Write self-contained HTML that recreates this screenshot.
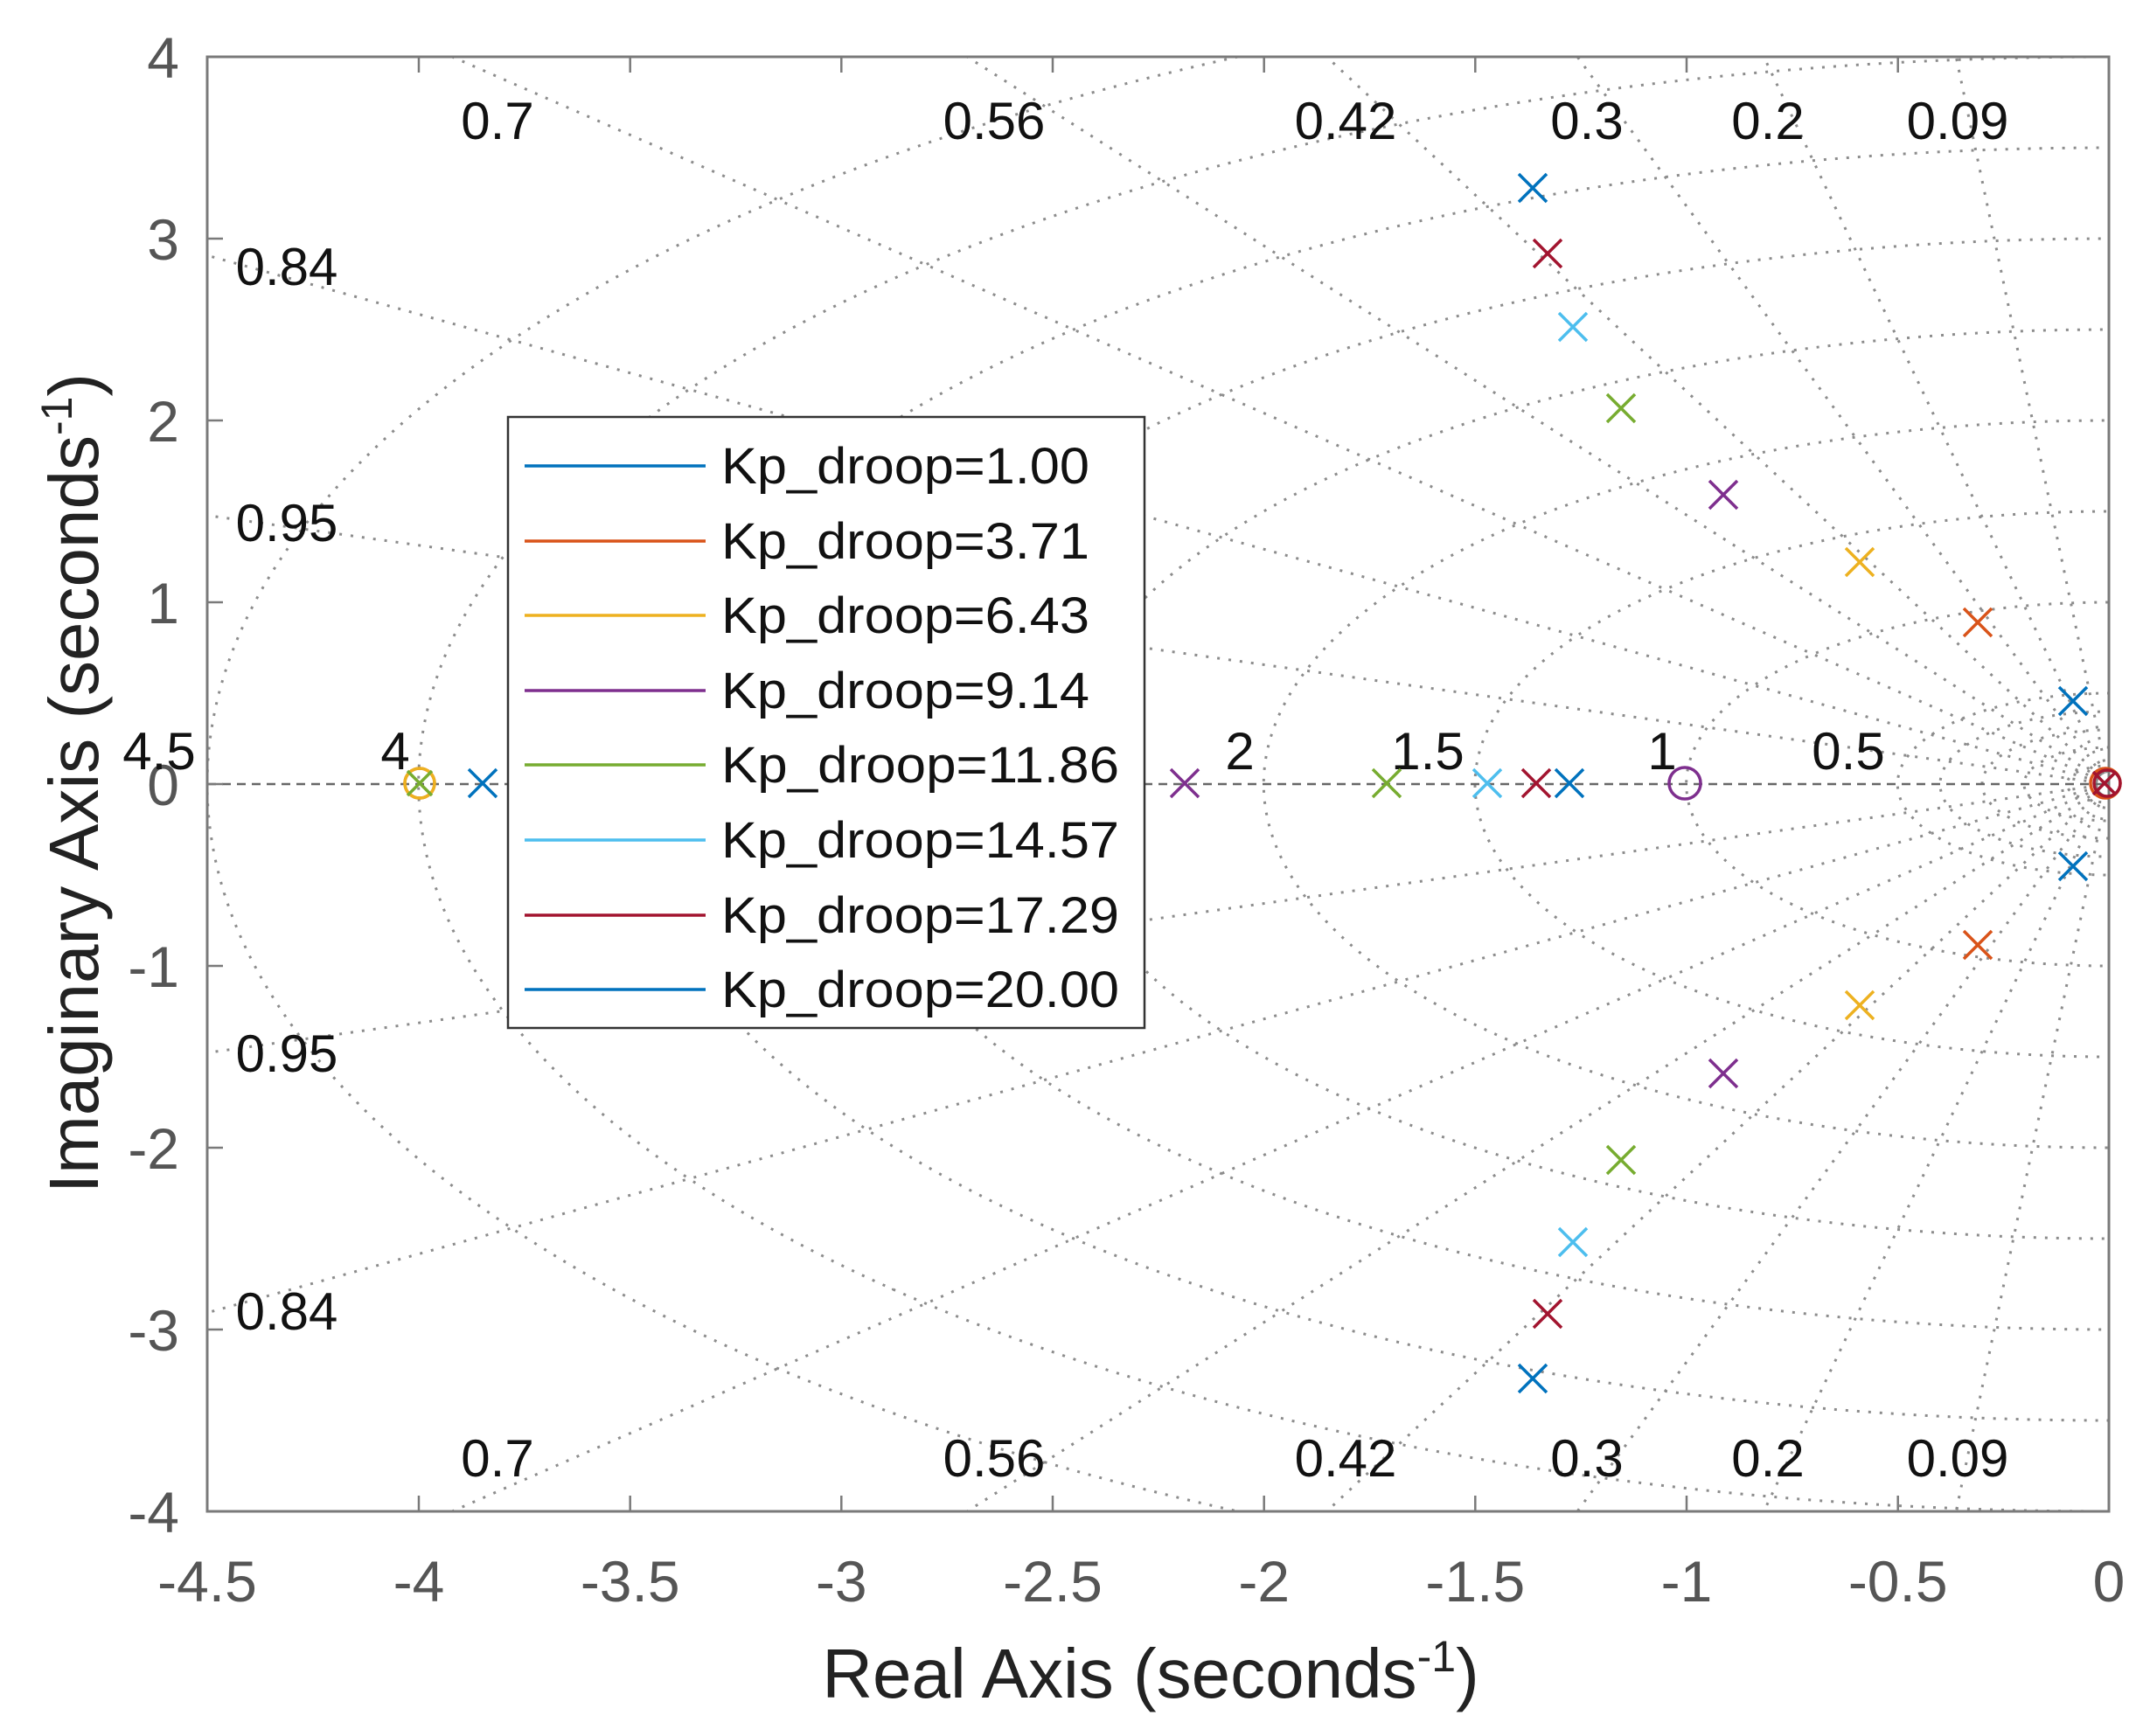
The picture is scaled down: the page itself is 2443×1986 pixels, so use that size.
<!DOCTYPE html>
<html><head><meta charset="utf-8"><style>html,body{margin:0;padding:0;background:#fff;width:2443px;height:1986px;overflow:hidden}svg{display:block}</style></head>
<body>
<svg width="2443" height="1986" viewBox="0 0 2443 1986" xmlns="http://www.w3.org/2000/svg" font-family="Liberation Sans, Arial, sans-serif">
<defs>
<clipPath id="c"><rect x="237" y="65" width="2175" height="1664"/></clipPath>
</defs>
<rect width="2443" height="1986" fill="#fff"/>
<g clip-path="url(#c)" fill="none" stroke="#8c8c8c" stroke-width="3" stroke-dasharray="3 10">
<line x1="2412" y1="897" x2="2020.5" y2="-967"/><line x1="2412" y1="897" x2="2020.5" y2="2761"/>
<line x1="2412" y1="897" x2="1542.1" y2="-937"/><line x1="2412" y1="897" x2="1542.1" y2="2731"/>
<line x1="2412" y1="897" x2="1107.1" y2="-889"/><line x1="2412" y1="897" x2="1107.1" y2="2683"/>
<line x1="2412" y1="897" x2="585.1" y2="-802"/><line x1="2412" y1="897" x2="585.1" y2="2596"/>
<line x1="2412" y1="897" x2="-23.8" y2="-655"/><line x1="2412" y1="897" x2="-23.8" y2="2449"/>
<line x1="2412" y1="897" x2="-632.8" y2="-440"/><line x1="2412" y1="897" x2="-632.8" y2="2234"/>
<line x1="2412" y1="897" x2="-1241.7" y2="-119"/><line x1="2412" y1="897" x2="-1241.7" y2="1913"/>
<line x1="2412" y1="897" x2="-1720.2" y2="313"/><line x1="2412" y1="897" x2="-1720.2" y2="1481"/>
<ellipse cx="2412" cy="897" rx="241.7" ry="104"/>
<ellipse cx="2412" cy="897" rx="483.3" ry="208"/>
<ellipse cx="2412" cy="897" rx="725" ry="312"/>
<ellipse cx="2412" cy="897" rx="966.7" ry="416"/>
<ellipse cx="2412" cy="897" rx="1208.3" ry="520"/>
<ellipse cx="2412" cy="897" rx="1450" ry="624"/>
<ellipse cx="2412" cy="897" rx="1691.7" ry="728"/>
<ellipse cx="2412" cy="897" rx="1933.3" ry="832"/>
<ellipse cx="2412" cy="897" rx="2175" ry="936"/>
<ellipse cx="2412" cy="897" rx="48" ry="21"/>
<ellipse cx="2412" cy="897" rx="97" ry="42"/>
<ellipse cx="2412" cy="897" rx="145" ry="62"/>
<ellipse cx="2412" cy="897" rx="193" ry="83"/>
</g>
<line x1="237" y1="897" x2="2412" y2="897" stroke="#666" stroke-width="2.5" stroke-dasharray="10 7"/>
<rect x="237" y="65" width="2175" height="1664" fill="none" stroke="#7a7a7a" stroke-width="3"/>
<g stroke="#7a7a7a" stroke-width="2.5">
<line x1="237" y1="273" x2="255" y2="273"/><line x1="237" y1="481" x2="255" y2="481"/><line x1="237" y1="689" x2="255" y2="689"/><line x1="237" y1="897" x2="255" y2="897"/><line x1="237" y1="1105" x2="255" y2="1105"/><line x1="237" y1="1313" x2="255" y2="1313"/><line x1="237" y1="1521" x2="255" y2="1521"/>
<line x1="479" y1="1729" x2="479" y2="1711"/><line x1="720.7" y1="1729" x2="720.7" y2="1711"/><line x1="962.3" y1="1729" x2="962.3" y2="1711"/><line x1="1204" y1="1729" x2="1204" y2="1711"/><line x1="1445.7" y1="1729" x2="1445.7" y2="1711"/><line x1="1687.3" y1="1729" x2="1687.3" y2="1711"/><line x1="1929" y1="1729" x2="1929" y2="1711"/><line x1="2170.7" y1="1729" x2="2170.7" y2="1711"/>
<line x1="479" y1="65" x2="479" y2="83"/><line x1="720.7" y1="65" x2="720.7" y2="83"/><line x1="962.3" y1="65" x2="962.3" y2="83"/><line x1="1204" y1="65" x2="1204" y2="83"/><line x1="1445.7" y1="65" x2="1445.7" y2="83"/><line x1="1687.3" y1="65" x2="1687.3" y2="83"/><line x1="1929" y1="65" x2="1929" y2="83"/><line x1="2170.7" y1="65" x2="2170.7" y2="83"/>
</g>
<g fill="#555" font-size="66" text-anchor="end">
<text x="205" y="89">4</text><text x="205" y="297">3</text><text x="205" y="505">2</text><text x="205" y="713">1</text><text x="205" y="921">0</text><text x="205" y="1129">-1</text><text x="205" y="1337">-2</text><text x="205" y="1545">-3</text><text x="205" y="1753">-4</text>
</g>
<g fill="#555" font-size="66" text-anchor="middle">
<text x="237" y="1832">-4.5</text><text x="479" y="1832">-4</text><text x="720.7" y="1832">-3.5</text><text x="962.3" y="1832">-3</text><text x="1204" y="1832">-2.5</text><text x="1445.7" y="1832">-2</text><text x="1687.3" y="1832">-1.5</text><text x="1929" y="1832">-1</text><text x="2170.7" y="1832">-0.5</text><text x="2412" y="1832">0</text>
</g>
<text x="1316" y="1942" font-size="80" text-anchor="middle" fill="#222">Real Axis (seconds<tspan dy="-30" font-size="50">-1</tspan><tspan dy="30">)</tspan></text>
<text transform="translate(112,896) rotate(-90)" font-size="80" text-anchor="middle" fill="#222">Imaginary Axis (seconds<tspan dy="-30" font-size="50">-1</tspan><tspan dy="30">)</tspan></text>
<g fill="#111" font-size="60" text-anchor="middle">
<text x="569" y="159">0.7</text><text x="1137" y="159">0.56</text><text x="1539" y="159">0.42</text><text x="1815" y="159">0.3</text><text x="2022" y="159">0.2</text><text x="2239" y="159">0.09</text>
<text x="569" y="1689">0.7</text><text x="1137" y="1689">0.56</text><text x="1539" y="1689">0.42</text><text x="1815" y="1689">0.3</text><text x="2022" y="1689">0.2</text><text x="2239" y="1689">0.09</text>
<text x="328" y="326">0.84</text><text x="328" y="619">0.95</text><text x="328" y="1226">0.95</text><text x="328" y="1521">0.84</text>
<text x="182" y="880">4.5</text><text x="452" y="880">4</text><text x="1418" y="880">2</text><text x="1633" y="880">1.5</text><text x="1901" y="880">1</text><text x="2114" y="880">0.5</text>
</g>
<g fill="none" stroke-width="3.5">
<g stroke="#0072BD"><path d="M2355 786l32 32M2387 786l-32 32M2355 975l32 32M2387 975l-32 32M1737 199l32 32M1769 199l-32 32M1737 1561l32 32M1769 1561l-32 32M1779 880l32 32M1811 880l-32 32M536 880l32 32M568 880l-32 32"/></g>
<g stroke="#D95319"><path d="M2246 696l32 32M2278 696l-32 32M2246 1065l32 32M2278 1065l-32 32"/><circle cx="2408" cy="896" r="17"/><circle cx="480" cy="896" r="17"/></g>
<g stroke="#EDB120"><path d="M2111 627l32 32M2143 627l-32 32M2111 1134l32 32M2143 1134l-32 32"/><circle cx="480" cy="896" r="17"/></g>
<g stroke="#7E2F8E"><path d="M1955 550l32 32M1987 550l-32 32M1955 1212l32 32M1987 1212l-32 32M1339 880l32 32M1371 880l-32 32"/><circle cx="1927" cy="896" r="18"/></g>
<g stroke="#77AC30"><path d="M1838 451l32 32M1870 451l-32 32M1838 1311l32 32M1870 1311l-32 32M1570 880l32 32M1602 880l-32 32M466 882l28 28M494 882l-28 28"/></g>
<g stroke="#4DBEEE"><path d="M1783 358l32 32M1815 358l-32 32M1783 1405l32 32M1815 1405l-32 32M1685 880l32 32M1717 880l-32 32"/></g>
<g stroke="#A2142F"><path d="M1754 274l32 32M1786 274l-32 32M1754 1487l32 32M1786 1487l-32 32M1741 880l32 32M1773 880l-32 32M2394 883l26 26M2420 883l-26 26"/><circle cx="2410" cy="896" r="15"/></g>
</g>
<rect x="581" y="477" width="728" height="699" fill="#fff" stroke="#333" stroke-width="2.5"/>
<g stroke-width="3.5">
<line x1="600" y1="533" x2="807" y2="533" stroke="#0072BD"/>
<line x1="600" y1="619" x2="807" y2="619" stroke="#D95319"/>
<line x1="600" y1="704" x2="807" y2="704" stroke="#EDB120"/>
<line x1="600" y1="790" x2="807" y2="790" stroke="#7E2F8E"/>
<line x1="600" y1="875" x2="807" y2="875" stroke="#77AC30"/>
<line x1="600" y1="961" x2="807" y2="961" stroke="#4DBEEE"/>
<line x1="600" y1="1047" x2="807" y2="1047" stroke="#A2142F"/>
<line x1="600" y1="1132" x2="807" y2="1132" stroke="#0072BD"/>
</g>
<g fill="#111" font-size="58">
<text x="825" y="553" textLength="421" lengthAdjust="spacingAndGlyphs">Kp_droop=1.00</text>
<text x="825" y="639" textLength="421" lengthAdjust="spacingAndGlyphs">Kp_droop=3.71</text>
<text x="825" y="724" textLength="421" lengthAdjust="spacingAndGlyphs">Kp_droop=6.43</text>
<text x="825" y="810" textLength="421" lengthAdjust="spacingAndGlyphs">Kp_droop=9.14</text>
<text x="825" y="895" textLength="455" lengthAdjust="spacingAndGlyphs">Kp_droop=11.86</text>
<text x="825" y="981" textLength="455" lengthAdjust="spacingAndGlyphs">Kp_droop=14.57</text>
<text x="825" y="1067" textLength="455" lengthAdjust="spacingAndGlyphs">Kp_droop=17.29</text>
<text x="825" y="1152" textLength="455" lengthAdjust="spacingAndGlyphs">Kp_droop=20.00</text>
</g>
</svg>
</body></html>
